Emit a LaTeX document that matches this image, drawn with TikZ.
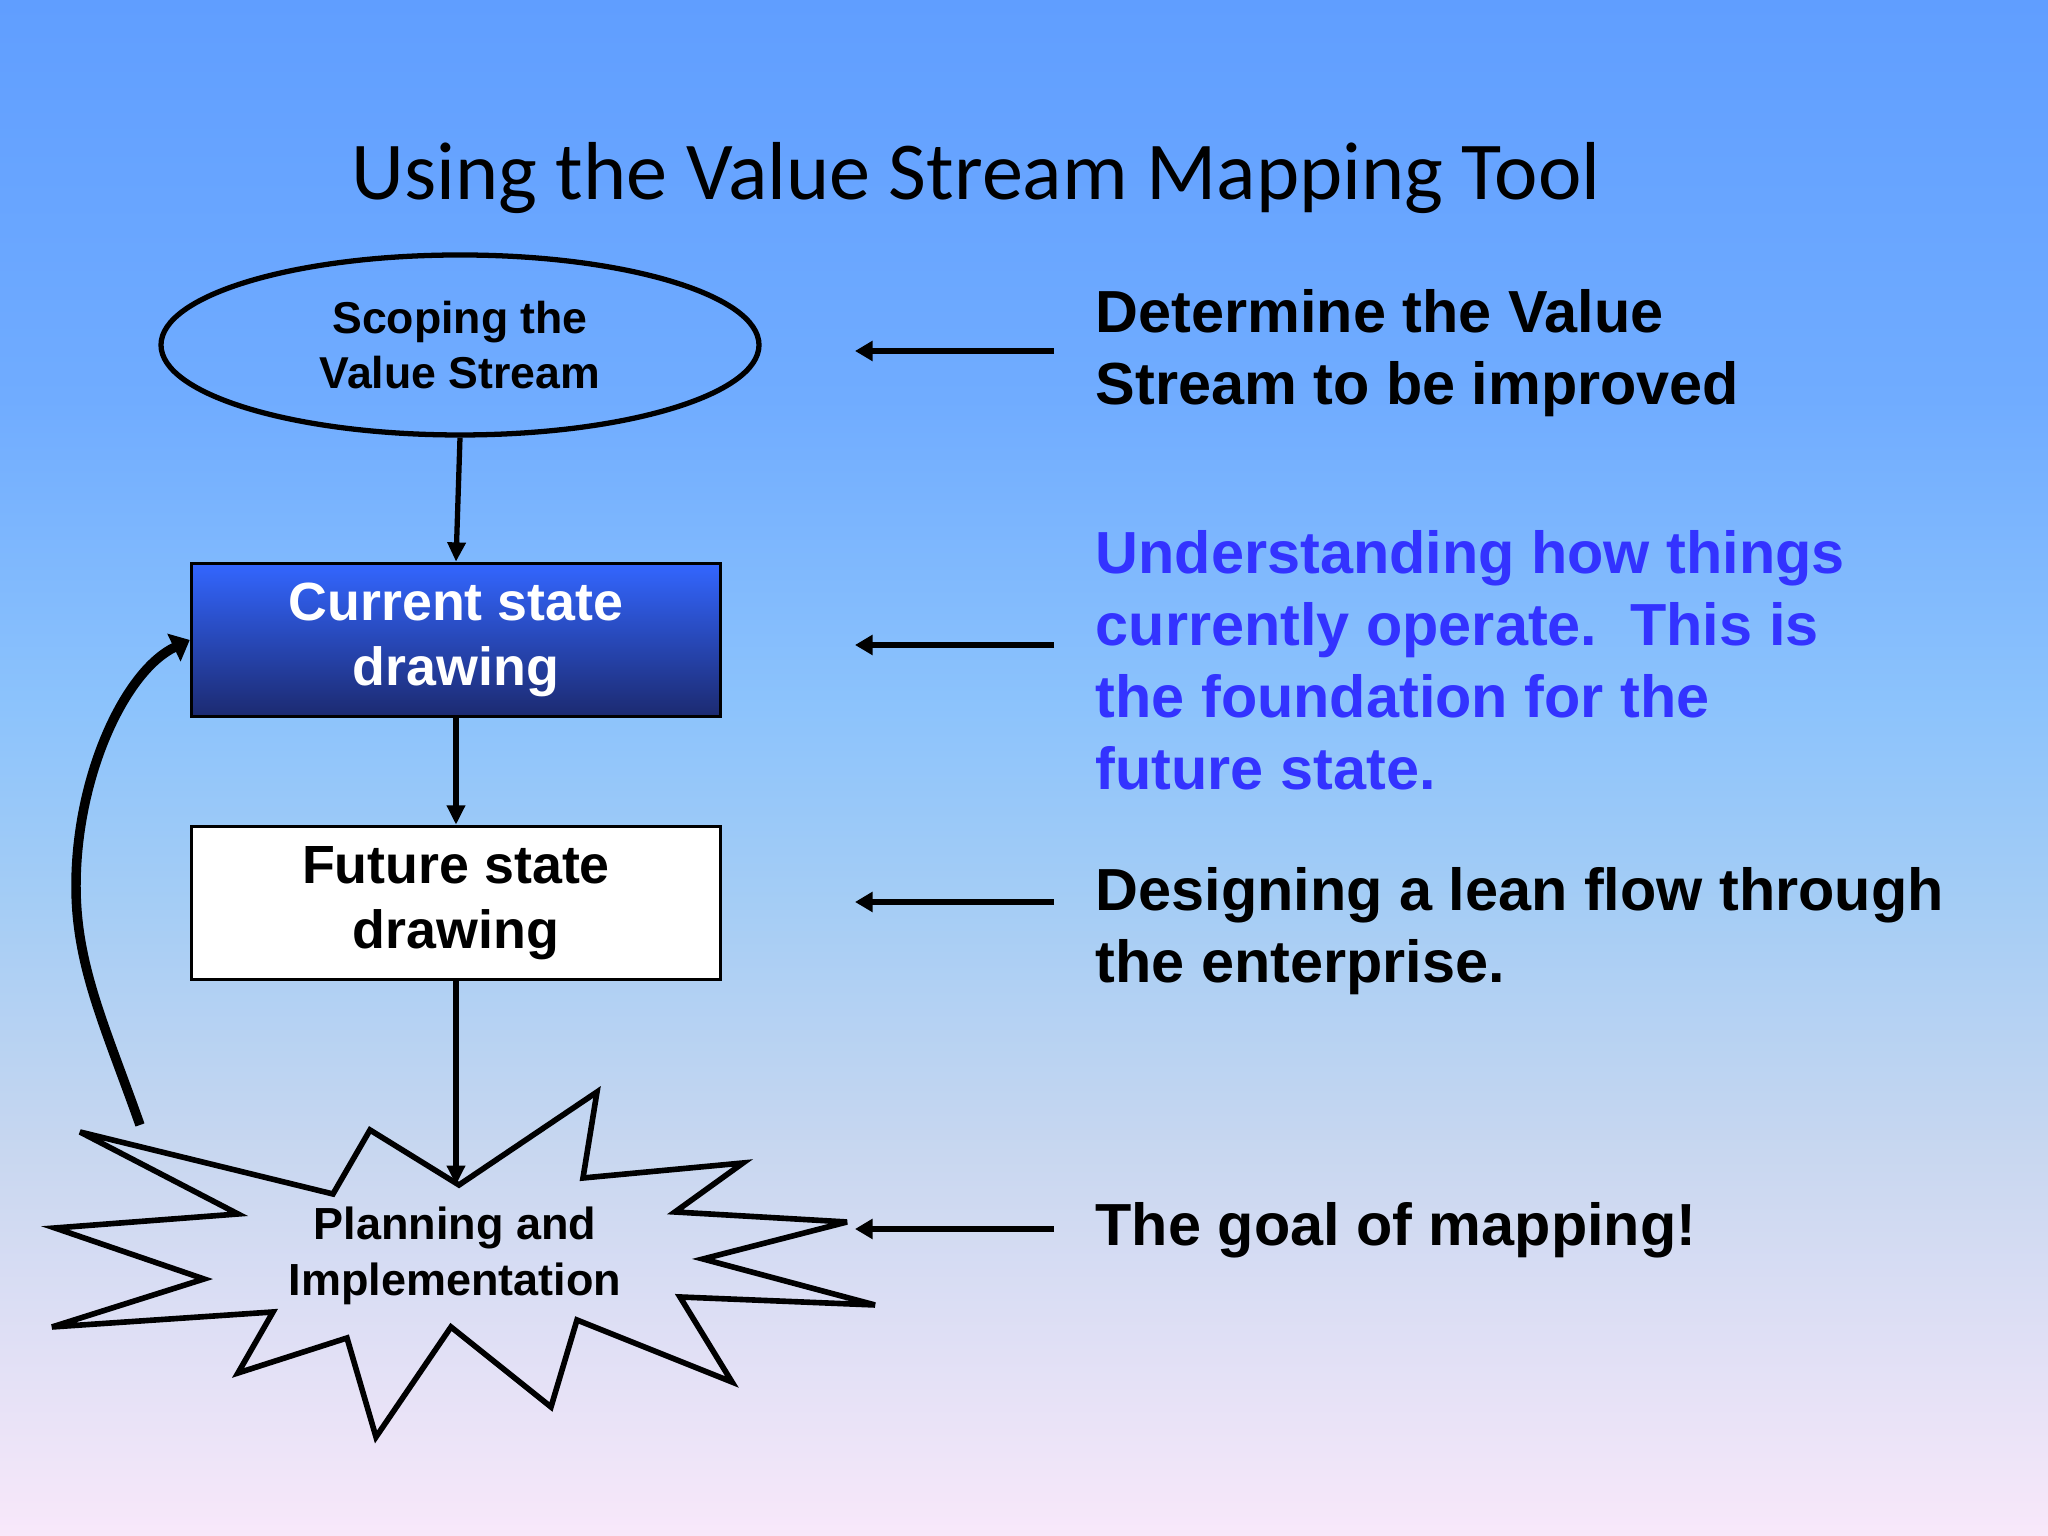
\documentclass[tikz,border=0pt]{standalone}
\usepackage{fontspec}
\setmainfont{Liberation Sans}
\newfontfamily\titlefont{Carlito}
\usetikzlibrary{shapes.geometric,arrows.meta}
\definecolor{skytop}{RGB}{96,158,255}
\definecolor{skyhigh}{RGB}{112,172,255}
\definecolor{skymid}{RGB}{140,195,252}
\definecolor{skylow}{RGB}{165,205,245}
\definecolor{skyhaze}{RGB}{200,215,240}
\definecolor{skybot}{RGB}{248,232,250}
\definecolor{boxtop}{RGB}{51,102,255}
\definecolor{boxbot}{RGB}{28,42,112}
\definecolor{noteblue}{RGB}{51,51,255}
\pgfdeclareverticalshading{skyfade}{100bp}{color(0bp)=(skybot); color(25bp)=(skybot);
  color(37.5bp)=(skyhaze); color(45.5bp)=(skylow); color(52bp)=(skymid);
  color(62bp)=(skyhigh); color(75bp)=(skytop); color(100bp)=(skytop)}

\begin{document}
\begin{tikzpicture}[
    scopeell/.style={ellipse, draw, line width=1.5pt, minimum width=5.98cm, minimum height=1.8cm,
      inner sep=0pt, align=center, font=\bfseries\fontsize{12.7}{15.6}\selectfont},
    statebox/.style={rectangle, draw, line width=1pt, minimum width=5.29cm, minimum height=1.53cm,
      inner sep=0pt, align=center, font=\bfseries\fontsize{15.3}{18.5}\selectfont},
    burst/.style={line width=1.6pt, line join=miter, miter limit=5},
    flow/.style={line width=1.5pt, -{Triangle[length=5.5pt,width=5pt]}},
    loopback/.style={line width=2.7pt, -{Triangle[length=5pt,width=8.5pt]}},
    pointer/.style={line width=1.9pt, -{Triangle[length=5pt,width=5.5pt]}},
    note/.style={anchor=base west, align=left, inner sep=0pt, font=\bfseries\fontsize{16.9}{20.5}\selectfont}
  ]
  \useasboundingbox (0,0) rectangle (20.48,15.36);
  \shade[shading=skyfade] (0,0) rectangle (20.48,15.36);

  \node[anchor=base, font=\titlefont\fontsize{23.4}{28}\selectfont] (title) at (9.76,13.36)
    {Using the Value Stream Mapping Tool};

  \node[scopeell] (scope) at (4.60,11.91) {Scoping the\\Value Stream};
  \node[statebox, top color=boxtop, bottom color=boxbot, text=white] (cur) at (4.56,8.96)
    {\raisebox{-0.6mm}{\begin{tabular}{@{}c@{}}Current state\\drawing\end{tabular}}};
  \node[statebox, fill=white] (fut) at (4.56,6.33)
    {\raisebox{-0.6mm}{\begin{tabular}{@{}c@{}}Future state\\drawing\end{tabular}}};

  \draw[burst] (0.80,4.04) -- (3.33,3.42) -- (3.70,4.06) -- (4.59,3.51) -- (5.97,4.44)
    -- (5.83,3.58) -- (7.43,3.73) -- (6.75,3.24) -- (8.47,3.14) -- (7.03,2.77)
    -- (8.75,2.31) -- (6.80,2.39) -- (7.32,1.54) -- (5.77,2.16) -- (5.51,1.29)
    -- (4.51,2.09) -- (3.76,0.99) -- (3.47,1.98) -- (2.38,1.63) -- (2.73,2.24)
    -- (0.52,2.09) -- (2.04,2.57) -- (0.55,3.08) -- (2.38,3.22) -- cycle;
  \coordinate (notch) at (4.59,3.51);
  \coordinate (loopstart) at (1.40,4.11);
  \node[align=center, font=\bfseries\fontsize{12.8}{15.9}\selectfont] (plan) at (4.55,2.80)
    {Planning and\\Implementation};

  \draw[flow] (scope.south) -- (cur.north);
  \draw[flow] (cur.south) -- (fut.north);
  \draw[flow] (fut.south) -- (fut.south |- notch);
  \draw[loopback] (loopstart) .. controls (1.05,5.10) and (0.76,5.70) .. (0.76,6.50)
    .. controls (0.76,7.60) and (1.25,8.65) .. (cur.west);

  \node[note] (goalA) at (10.95,11.31) {Determine the Value\\Stream to be improved};
  \node[note, text=noteblue] (goalB) at (10.95,7.46)
    {Understanding how things\\currently operate.\ \ This is\\the foundation for the\\future state.};
  \node[note] (goalC) at (10.95,5.53) {Designing a lean flow through\\the enterprise.};
  \node[note] (goalD) at (10.95,2.90) {The goal of mapping!};

  \coordinate (tailA) at (10.54,11.85);
  \coordinate (tipA) at (8.55,11.85);
  \coordinate (tailB) at (10.54,8.91);
  \coordinate (tipB) at (8.55,8.91);
  \coordinate (tailC) at (10.54,6.34);
  \coordinate (tipC) at (8.55,6.34);
  \coordinate (tailD) at (10.54,3.07);
  \coordinate (tipD) at (8.55,3.07);
  \draw[pointer] (tailA) -- (tipA);
  \draw[pointer] (tailB) -- (tipB);
  \draw[pointer] (tailC) -- (tipC);
  \draw[pointer] (tailD) -- (tipD);
\end{tikzpicture}
\end{document}
